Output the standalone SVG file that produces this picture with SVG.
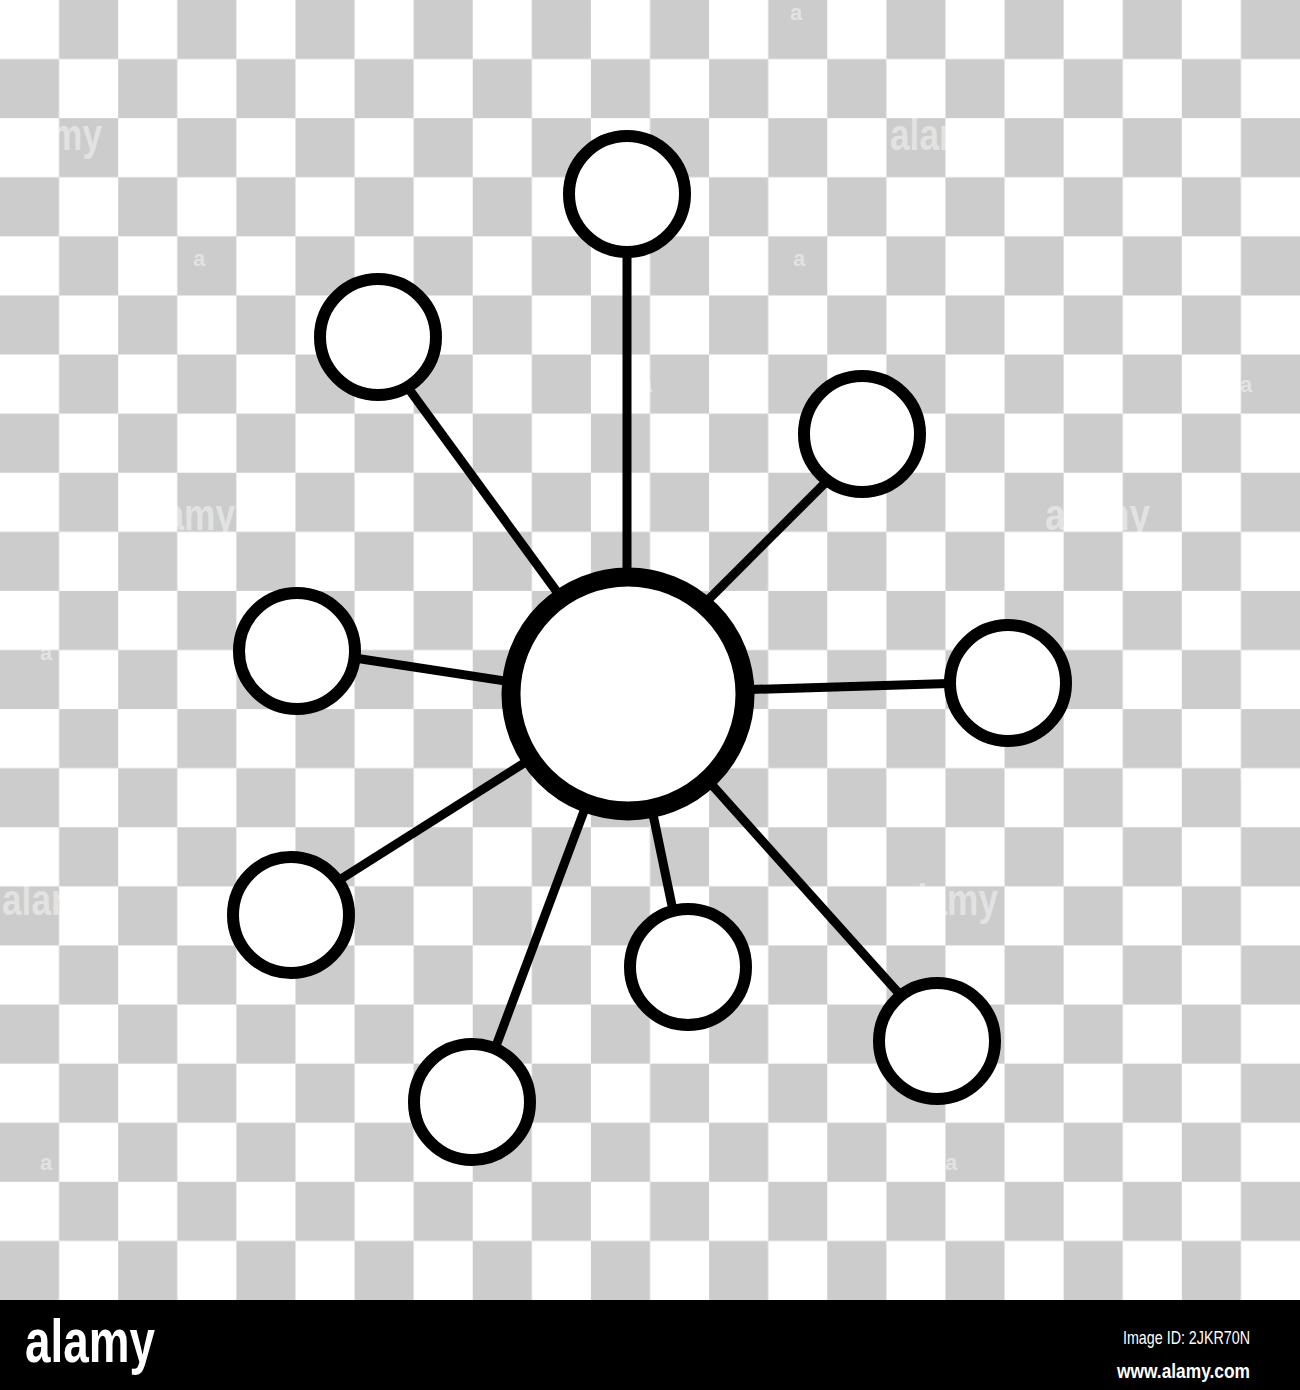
<svg xmlns="http://www.w3.org/2000/svg" width="1300" height="1390" viewBox="0 0 1300 1390">
  <defs>
    <pattern id="checker" x="0" y="0" width="118.1818" height="118.1818" patternUnits="userSpaceOnUse">
      <rect x="0" y="0" width="118.1818" height="118.1818" fill="#ffffff"/>
      <rect x="59.0909" y="0" width="59.0909" height="59.0909" fill="#cccccc"/>
      <rect x="0" y="59.0909" width="59.0909" height="59.0909" fill="#cccccc"/>
    </pattern>
    <style>
      .edge { stroke: #000; stroke-width: 9; stroke-linecap: butt; fill: none; }
      .leaf { fill: #fff; stroke: #000; stroke-width: 12; }
      .hub { fill: #fff; stroke: #000; stroke-width: 19; }
      .wm { font-family: "Liberation Sans", Arial, sans-serif; font-weight: bold; font-size: 44px; fill: #ffffff; fill-opacity: 0.45; }
      .wms { font-family: "Liberation Sans", Arial, sans-serif; font-weight: bold; font-size: 22px; fill: #ffffff; fill-opacity: 0.45; }
      .brand { font-family: "Liberation Sans", Arial, sans-serif; font-weight: bold; fill: #ffffff; }
      .info { font-family: "Liberation Sans", Arial, sans-serif; fill: #ffffff; }
    </style>
  </defs>

  <rect x="0" y="0" width="1300" height="1300" fill="url(#checker)"/>

  <g id="watermarks">
    <text class="wm" x="2" y="150" textLength="100" lengthAdjust="spacingAndGlyphs">alamy</text>
    <text class="wm" x="890" y="150" textLength="100" lengthAdjust="spacingAndGlyphs">alamy</text>
    <text class="wm" x="135" y="530" textLength="100" lengthAdjust="spacingAndGlyphs">alamy</text>
    <text class="wm" x="1045" y="530" textLength="105" lengthAdjust="spacingAndGlyphs">alamy</text>
    <text class="wm" x="2" y="915" textLength="100" lengthAdjust="spacingAndGlyphs">alamy</text>
    <text class="wm" x="898" y="915" textLength="100" lengthAdjust="spacingAndGlyphs">alamy</text>
    <text class="wms" x="590" y="22">a</text>
    <text class="wms" x="790" y="20">a</text>
    <text class="wms" x="193" y="266">a</text>
    <text class="wms" x="793" y="266">a</text>
    <text class="wms" x="1240" y="392">a</text>
    <text class="wms" x="640" y="392">a</text>
    <text class="wms" x="40" y="660">a</text>
    <text class="wms" x="1240" y="780">a</text>
    <text class="wms" x="40" y="1170">a</text>
    <text class="wms" x="945" y="1170">a</text>
  </g>

  <g id="connectors">
    <line class="edge" x1="627" y1="230" x2="627" y2="600"/>
    <line class="edge" x1="395" y1="370" x2="579" y2="622"/>
    <line class="edge" x1="838" y1="470" x2="690" y2="618"/>
    <line class="edge" x1="335" y1="655" x2="525" y2="684"/>
    <line class="edge" x1="735" y1="690" x2="965" y2="683"/>
    <line class="edge" x1="322" y1="891" x2="540" y2="753"/>
    <line class="edge" x1="490" y1="1062" x2="590" y2="795"/>
    <line class="edge" x1="650" y1="800" x2="676" y2="925"/>
    <line class="edge" x1="704" y1="776" x2="912" y2="1008"/>
  </g>

  <g id="hub"><circle class="hub" cx="628" cy="694" r="117"/></g>
  <g id="node-top"><circle class="leaf" cx="627" cy="194" r="58"/></g>
  <g id="node-top-left"><circle class="leaf" cx="378" cy="337" r="58"/></g>
  <g id="node-top-right"><circle class="leaf" cx="862" cy="434" r="58"/></g>
  <g id="node-left"><circle class="leaf" cx="297" cy="651" r="58"/></g>
  <g id="node-right"><circle class="leaf" cx="1008" cy="683" r="58"/></g>
  <g id="node-lower-left"><circle class="leaf" cx="291" cy="915" r="58"/></g>
  <g id="node-bottom-left"><circle class="leaf" cx="472" cy="1102" r="58"/></g>
  <g id="node-bottom-middle"><circle class="leaf" cx="688" cy="967" r="58"/></g>
  <g id="node-bottom-right"><circle class="leaf" cx="937" cy="1041" r="58"/></g>

  <g id="banner">
    <rect x="0" y="1300" width="1300" height="90" fill="#000"/>
    <text class="brand" x="25" y="1362" font-size="62" textLength="130" lengthAdjust="spacingAndGlyphs">alamy</text>
    <text class="info" x="1250" y="1344" font-size="19" text-anchor="end" textLength="127" lengthAdjust="spacingAndGlyphs">Image ID: 2JKR70N</text>
    <text class="brand" x="1250" y="1378" font-size="20" text-anchor="end" textLength="133" lengthAdjust="spacingAndGlyphs">www.alamy.com</text>
  </g>
</svg>
